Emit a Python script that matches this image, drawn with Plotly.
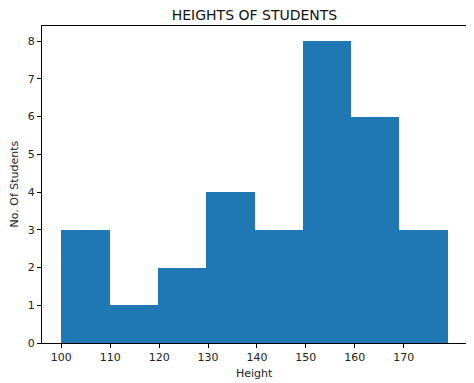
import plotly.graph_objects as go

bin_edges = [100, 109.875, 119.75, 129.625, 139.5, 149.375, 159.25, 169.125, 179]
counts = [3, 1, 2, 4, 3, 8, 6, 3]
x_ticks = [100, 110, 120, 130, 140, 150, 160, 170]
y_ticks = [0, 1, 2, 3, 4, 5, 6, 7, 8]

centers = [(a + b) / 2 for a, b in zip(bin_edges[:-1], bin_edges[1:])]
widths = [b - a for a, b in zip(bin_edges[:-1], bin_edges[1:])]

fig = go.Figure(go.Bar(x=centers, y=counts, width=widths,
                       marker=dict(color="#1f77b4", line=dict(width=0))))

# page has an 8px body margin; figure is offset accordingly
OFF = 8
W, H = 474 - OFF, 383 - OFF
L, R, T, B = 42 - OFF, 7, 26 - OFF, 40
PW, PH = W - L - R, H - T - B

font = "DejaVu Sans, sans-serif"
fig.update_layout(
    width=W, height=H,
    margin=dict(l=L, r=R, t=T, b=B, autoexpand=False),
    plot_bgcolor="white", paper_bgcolor="white",
    font=dict(family=font, size=11, color="#222"),
    title=dict(text="HEIGHTS OF STUDENTS", x=(L + W - R) / 2 / W, xanchor="center",
               y=1 - (15 - OFF) / H, yanchor="middle", font=dict(size=14, color="#111")),
    showlegend=False,
    bargap=0,
    annotations=[
        dict(text="Height", xref="paper", yref="paper", x=0.5,
             y=-((373 - OFF) - (H - B)) / PH,
             xanchor="center", yanchor="middle", showarrow=False, font=dict(size=11)),
        dict(text="No. Of Students", xref="paper", yref="paper", textangle=-90,
             x=-(L - (14 - OFF)) / PW, y=0.5, xanchor="center", yanchor="middle",
             showarrow=False, font=dict(size=11)),
    ],
)
axis_common = dict(showline=True, linecolor="black", linewidth=1, mirror=True,
                   ticks="outside", ticklen=4, tickcolor="black", showgrid=False,
                   zeroline=False, automargin=False)
fig.update_xaxes(range=[96.05, 182.95], tickvals=x_ticks, **axis_common)
fig.update_yaxes(range=[0, 8.4], tickvals=y_ticks, **axis_common)

fig.write_html("out.html")
